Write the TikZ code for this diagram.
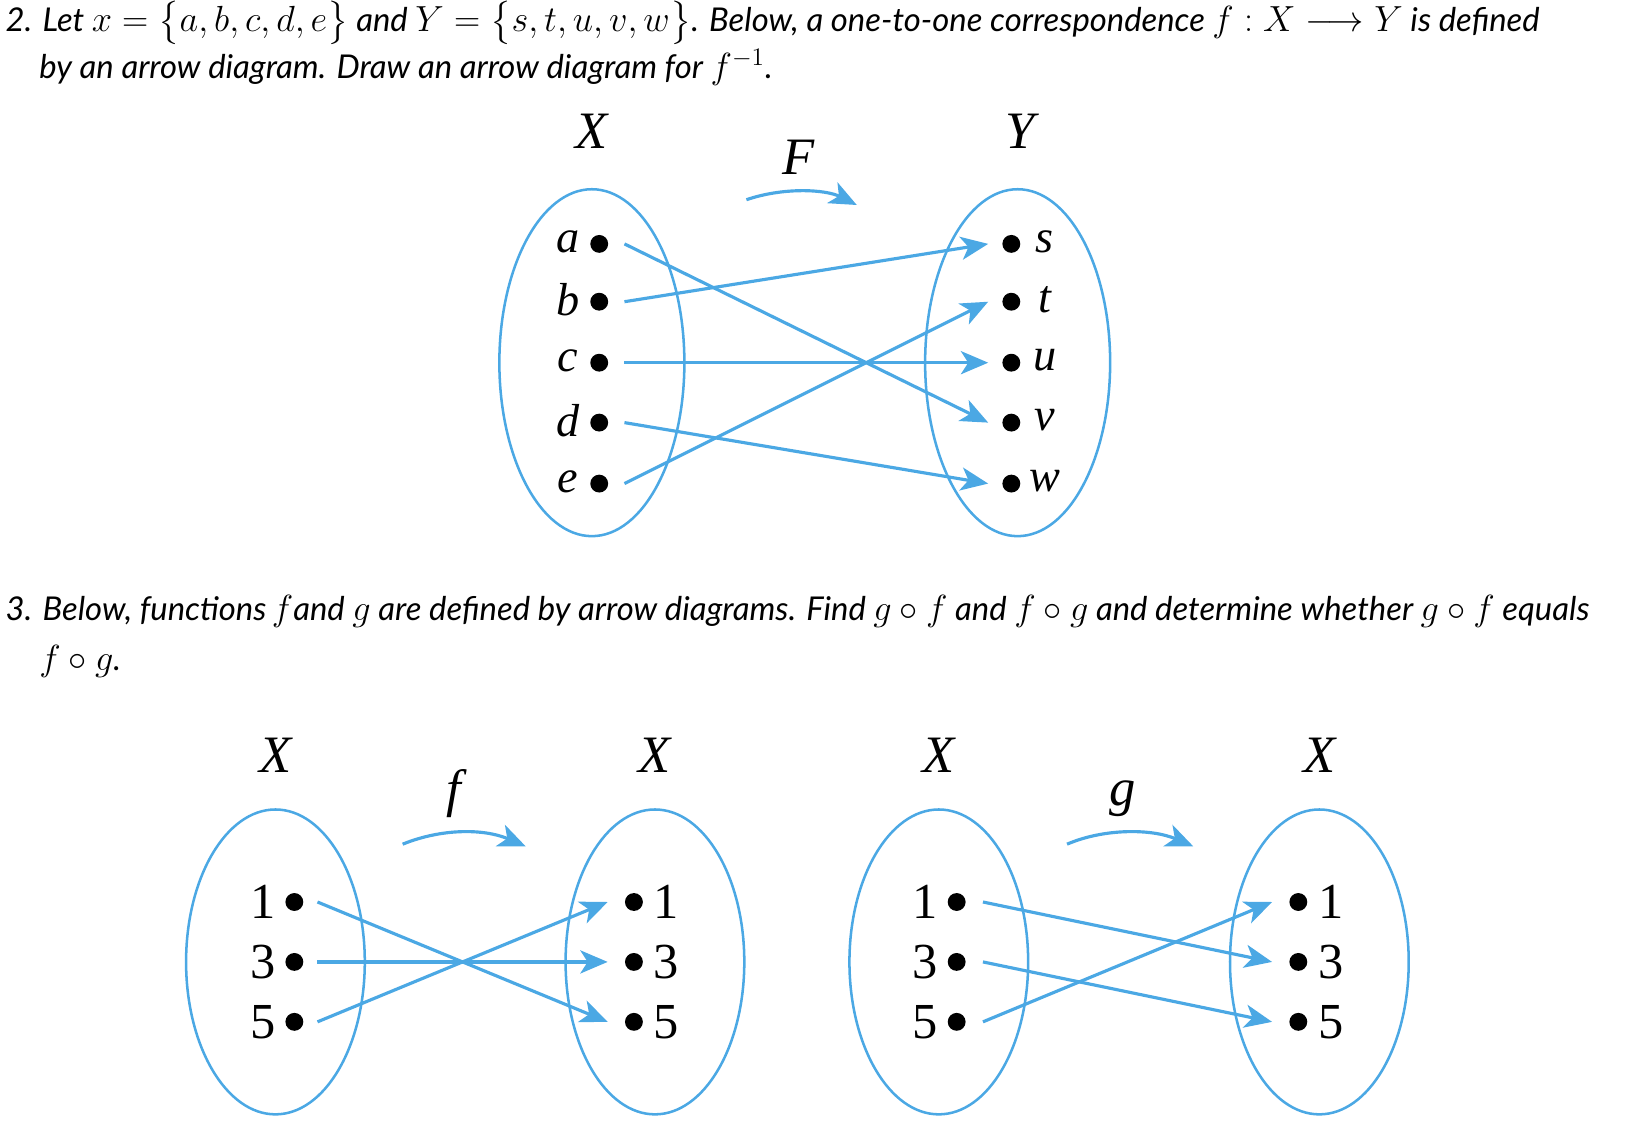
\documentclass[tikz,border=0pt]{standalone}
\usepackage{fontspec}
\usepackage{amsmath}
\newfontfamily\lato{Lato}
\newfontfamily\tms{Liberation Serif}
\usetikzlibrary{arrows.meta}
\definecolor{lb}{RGB}{75,168,228}
\newcommand{\bm}[1]{{\fontsize{18.5}{20}\selectfont$#1$}}
\begin{document}
\begin{tikzpicture}[x=0.5pt,y=-0.5pt,
  txt/.style={anchor=base west,inner sep=0,font=\lato\itshape\fontsize{15.6}{18}\selectfont},
  ell/.style={draw=lb,line width=1.2pt},
  dot/.style={circle,fill=black,inner sep=0,minimum size=8.5pt},
  lab/.style={font=\tms\itshape\fontsize{22}{24}\selectfont,inner sep=0},
  num/.style={font=\tms\fontsize{24}{26}\selectfont,inner sep=0},
  ttl/.style={font=\tms\itshape\fontsize{25}{27}\selectfont,inner sep=0},
  ar/.style={draw=lb,line width=1.5pt,-{Stealth[length=13pt,width=11pt,inset=3.5pt]}}]
\useasboundingbox (0,0) rectangle (1560,1080);
\node[txt] (t1) at (5,30) {2. Let \bm{x=\bigl\{a,b,c,d,e\bigr\}} and \bm{Y=\bigl\{s,t,u,v,w\bigr\}}. Below, a one-to-one correspondence \bm{f:X\longrightarrow Y} is defined};
\node[txt] (t2) at (37,75) {by an arrow diagram. Draw an arrow diagram for \bm{f^{-1}}.};
\node[txt] (t3) at (5,590) {3. Below, functions\,\bm{f}and \bm{g} are defined by arrow diagrams. Find \bm{g\circ f} and \bm{f\circ g} and determine whether \bm{g\circ f} equals};
\node[txt] (t4) at (37,638) {\bm{f\circ g}.};
% top diagram
\node[ttl] (X0) at (563,125) {X};
\node[ttl] (Y0) at (970,125) {Y};
\node[ttl] (F) at (760,150) {F};
\coordinate (Fa) at (710,190); \coordinate (Fb) at (815,195);
\draw[ar] (Fa) .. controls (745,178) and (785,180) .. (Fb);
\draw[ell] (563,345) ellipse [x radius=88,y radius=165];
\draw[ell] (968,345) ellipse [x radius=88,y radius=165];
\foreach \n/\y in {a/232,b/287,c/345,d/402,e/460}{
  \node[dot] (d\n) at (570,\y) {};
  \node[lab] (l\n) at (540,\y-2) {\n};
  \coordinate (s\n) at (594,\y);}
\foreach \n/\y in {s/232,t/287,u/345,v/402,w/460}{
  \node[dot] (d\n) at (962,\y) {};
  \node[lab] (l\n) at (994,\y-2) {\n};
  \coordinate (e\n) at (940,\y);}
\draw[ar] (sa) -- (ev);
\draw[ar] (sb) -- (es);
\draw[ar] (sc) -- (eu);
\draw[ar] (sd) -- (ew);
\draw[ar] (se) -- (et);
% bottom diagrams
\foreach \cx/\k in {262/A,623/B,893/C,1255/D}{
  \node[ttl] (X\k) at (\cx,718) {X};
  \draw[ell] (\cx,915) ellipse [x radius=85,y radius=145];}
\node[ttl] (fl) at (432,755) {f};
\node[ttl] (gl) at (1068,760) {g};
\draw[ar] (383,803) .. controls (420,788) and (460,788) .. (500,805);
\draw[ar] (1015,803) .. controls (1050,788) and (1095,788) .. (1135,805);
\foreach \v/\y in {1/858,3/915,5/972}{
  \node[dot] (pA\v) at (280,\y) {}; \node[num] (nA\v) at (250,\y) {\v};
  \coordinate (sA\v) at (302,\y);
  \node[dot] (pB\v) at (603,\y) {}; \node[num] (nB\v) at (634,\y) {\v};
  \coordinate (eB\v) at (578,\y);
  \node[dot] (pC\v) at (910,\y) {}; \node[num] (nC\v) at (880,\y) {\v};
  \coordinate (sC\v) at (935,\y);
  \node[dot] (pD\v) at (1235,\y) {}; \node[num] (nD\v) at (1266,\y) {\v};
  \coordinate (eD\v) at (1210,\y);}
\draw[ar] (sA1) -- (eB5);
\draw[ar] (sA3) -- (eB3);
\draw[ar] (sA5) -- (eB1);
\draw[ar] (sC1) -- (eD3);
\draw[ar] (sC3) -- (eD5);
\draw[ar] (sC5) -- (eD1);
\end{tikzpicture}
\end{document}
